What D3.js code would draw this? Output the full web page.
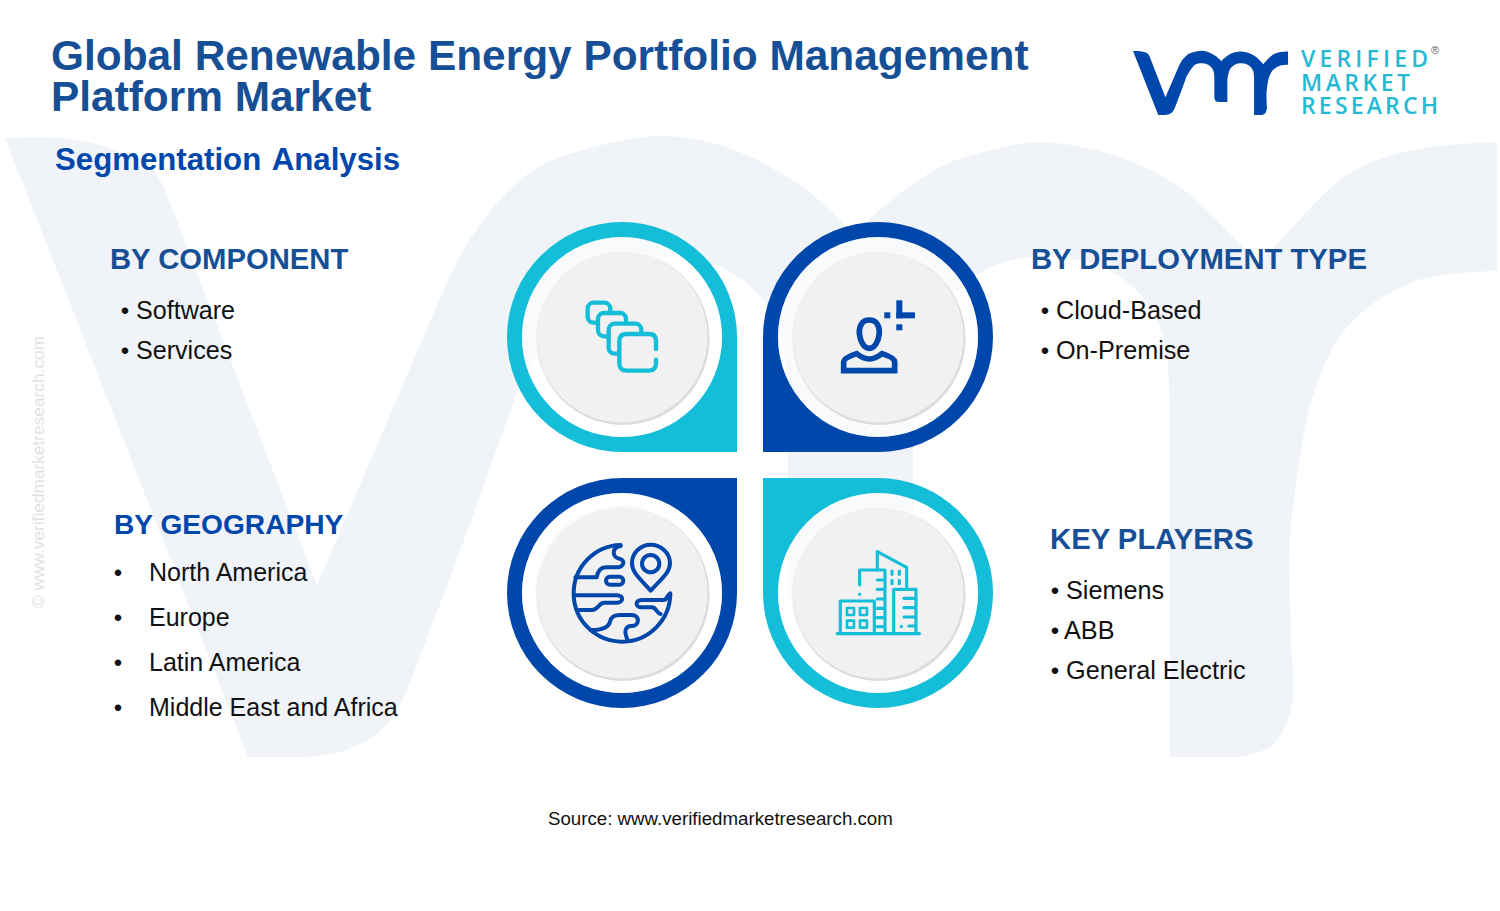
<!DOCTYPE html>
<html>
<head>
<meta charset="utf-8">
<title>Global Renewable Energy Portfolio Management Platform Market</title>
<script src="https://cdn.jsdelivr.net/npm/d3@7/dist/d3.min.js"></script>
<style>
  body { margin: 0; background: #fff; }
  text { font-family: "Liberation Sans", Arial, sans-serif; }
</style>
</head>
<body>
<svg id="chart" width="1500" height="911"></svg>
<script>
var titleLines = ["Global Renewable Energy Portfolio Management", "Platform Market"];
var subtitle = "Segmentation Analysis";
var componentItems = ["Software", "Services"];
var deploymentItems = ["Cloud-Based", "On-Premise"];
var geographyItems = ["North America", "Europe", "Latin America", "Middle East and Africa"];
var playerItems = ["Siemens", "ABB", "General Electric"];
var logoWords = ["VERIFIED", "MARKET", "RESEARCH"];
var sourceText = "Source: www.verifiedmarketresearch.com";
var copyText = "\u00A9 www.verifiedmarketresearch.com";

var BLUE = "#0047ab", TEAL = "#14bed8", HEAD = "#174f96", WASH = "#f0f4f9";

var svg = d3.select("#chart");
svg.append("rect").attr("width", 1500).attr("height", 911).attr("fill", "#fff");

// the "vmr" mark, used big as the backdrop and small as the logo
var outline = [
  [[5,138],[60,138],[110,148],[150,166],[165,190]],
  [[165,190],[317,585]],
  [[317,585],[447,282]],
  [[447,282],[476,230],[529,173],[583,150],[661,136],[726,147],[797,183],[843,223],[856,238]],
  [[856,238],[869,220],[940,167],[1000,148],[1040,142],[1113,155],[1180,187],[1237,241],[1258,264]],
  [[1258,264],[1280,241],[1347,175],[1413,150],[1497,142]],
  [[1497,142],[1497,271]],
  [[1497,271],[1413,282],[1347,327],[1313,396],[1297,478],[1290,540],[1291,640],[1292,704],[1273,745],[1240,757]],
  [[1240,757],[1170,757]],
  [[1170,757],[1170,417]],
  [[1170,417],[1163,335],[1140,294],[1097,265],[1030,257],[980,273],[935,320],[913,417]],
  [[913,417],[913,630]],
  [[913,630],[830,630],[800,620],[788,595]],
  [[788,595],[788,417]],
  [[788,417],[781,335],[758,294],[715,265],[648,257],[598,273],[520,384]],
  [[520,384],[433,622],[387,724],[340,752],[300,757]],
  [[300,757],[248,757]],
  [[248,757],[5,138]]
];
var lineGen = d3.line().curve(d3.curveCatmullRom.alpha(0.5));
var vmrPath = outline.map(function(s) { return lineGen(s); }).join("").replace(/(?!^)M/g, "L") + "Z";

svg.append("path").attr("d", vmrPath).attr("fill", WASH);
svg.append("path").attr("d", vmrPath).attr("fill", BLUE)
   .attr("transform", "translate(1132.5,36.8) scale(0.1039,0.1034)");

// logo words
var logoY = d3.scalePoint().domain(logoWords).range([67, 114]);
var logoW = { VERIFIED: 127, MARKET: 109, RESEARCH: 137 };
svg.selectAll(".logo-word").data(logoWords).enter().append("text")
   .attr("class", "logo-word")
   .attr("x", 1301).attr("y", function(d) { return logoY(d); })
   .attr("textLength", function(d) { return logoW[d]; })
   .attr("lengthAdjust", "spacing")
   .style("font-family", "'Open Sans'").style("font-size", "23px").style("font-weight", 600)
   .attr("fill", "#25b9d4").text(function(d) { return d; });
svg.append("text").attr("x", 1431).attr("y", 54).style("font-size", "11px").attr("fill", "#666").text("\u00AE");

// titles
svg.selectAll(".title").data(titleLines).enter().append("text")
   .attr("class", "title").attr("x", 51).attr("y", function(d, i) { return 70 + i * 41; })
   .style("font-size", "42.4px").style("font-weight", 700).attr("fill", HEAD)
   .text(function(d) { return d; });
svg.append("text").attr("x", 55).attr("y", 170)
   .style("font-size", "31.2px").style("font-weight", 700).style("word-spacing", "3px").attr("fill", BLUE)
   .text(subtitle);

function drawList(heading, headColor, headSize, hx, hy, items, itemSize, dotSize, bx, tx, y0, step) {
  svg.append("text").attr("x", hx).attr("y", hy)
     .style("font-size", headSize + "px").style("font-weight", 700).attr("fill", headColor).text(heading);
  var g = svg.append("g");
  var row = d3.scaleLinear().domain([0, 1]).range([y0, y0 + step]);
  items.forEach(function(d, i) {
    g.append("text").attr("x", bx).attr("y", row(i)).attr("text-anchor", "middle")
     .style("font-size", dotSize + "px").attr("fill", "#111").text("\u2022");
    g.append("text").attr("x", d === "ABB" ? tx - 2 : tx).attr("y", row(i))
     .style("font-size", itemSize + "px").attr("fill", "#111").text(d);
  });
}
drawList("BY COMPONENT", HEAD, 29.25, 110, 269, componentItems, 25.1, 24, 125, 136, 319, 40);
drawList("BY DEPLOYMENT TYPE", HEAD, 29.25, 1031, 269, deploymentItems, 25.2, 24, 1045, 1056, 319, 40);
drawList("BY GEOGRAPHY", BLUE, 28.15, 114, 533.5, geographyItems, 25, 24, 118, 149, 581, 45);
drawList("KEY PLAYERS", HEAD, 29.3, 1050, 549, playerItems, 25.25, 24, 1055, 1066, 599, 40);

// four teardrops
var cx = d3.scalePoint().domain([0, 1]).range([622, 878]);
var cy = d3.scalePoint().domain([0, 1]).range([337, 593]);
var drops = [
  { col: 0, row: 0, color: TEAL },
  { col: 1, row: 0, color: BLUE },
  { col: 0, row: 1, color: BLUE },
  { col: 1, row: 1, color: TEAL }
];
var R = 115, RING = 100;
drops.forEach(function(d) {
  var x = cx(d.col), y = cy(d.row);
  var g = svg.append("g");
  var sx = d.col === 0 ? 1 : -1, sy = d.row === 0 ? 1 : -1;
  var sweep = sx * sy > 0 ? 1 : 0;
  // square corner plus the long way round, with a hole so the backdrop shows through the ring
  var shape = "M" + (x + sx * R) + "," + (y + sy * R) +
    " L" + x + "," + (y + sy * R) +
    " A" + R + "," + R + " 0 1 " + sweep + " " + (x + sx * R) + "," + y + " Z" +
    " M" + (x - RING) + "," + y +
    " A" + RING + "," + RING + " 0 1 0 " + (x + RING) + "," + y +
    " A" + RING + "," + RING + " 0 1 0 " + (x - RING) + "," + y + " Z";
  g.append("path").attr("d", shape).attr("fill", d.color).attr("fill-rule", "evenodd");
  g.append("circle").attr("cx", x).attr("cy", y).attr("r", RING).attr("fill", "#fff").attr("opacity", 0.5);
  g.append("circle").attr("cx", x - 1).attr("cy", y - 1.5).attr("r", 86.5).attr("fill", "#fbfbfc");
  g.append("circle").attr("cx", x + 1).attr("cy", y + 1.5).attr("r", 86.5).attr("fill", "#dcdcdc");
  g.append("circle").attr("cx", x).attr("cy", y).attr("r", 85.5).attr("fill", "#f1f1f2");
});

// icons, traced at 3x and scaled down
function icon(ox, oy, color, sw) {
  return svg.append("g").attr("transform", "translate(" + ox + "," + oy + ") scale(0.3333)")
    .attr("fill", "none").attr("stroke", color).attr("stroke-width", sw)
    .attr("stroke-linecap", "round").attr("stroke-linejoin", "round");
}

// stacked squares
var ic1 = icon(500, 215, TEAL, 13);
[[263,263,68,60],[294,294,84,70],[326,326,98,90]].forEach(function(r) {
  ic1.append("rect").attr("x", r[0]).attr("y", r[1]).attr("width", r[2]).attr("height", r[3]).attr("rx", 18).attr("fill", "#f1f1f2");
});
// front square drawn twice: a plain patch to hide what is behind it, then the open outline
ic1.append("rect").attr("x", 358).attr("y", 357).attr("width", 110).attr("height", 110).attr("rx", 20).attr("fill", "#f1f1f2").attr("stroke", "none");
ic1.append("path")
   .attr("d", "M468,402 V378 Q468,357 447,357 H380 Q358,357 358,378 V445 Q358,467 380,467 H447 Q468,467 468,445 V434");

// person with sparkle
var ic2 = icon(755, 215, BLUE, 17);
ic2.append("path").attr("d", "M343,315 C320,315 312,335 313,355 C315,380 328,400 343,400 C358,400 371,380 373,355 C374,335 366,315 343,315 Z");
ic2.append("path").attr("stroke-linecap", "butt").attr("stroke-linejoin", "miter")
   .attr("d", "M266,467 V440 Q268,428 305,416 Q325,432 343,432 Q361,432 381,416 Q418,428 419,440 V467 Z");
var ic2b = icon(755, 215, BLUE, 0).attr("fill", BLUE);
ic2b.append("rect").attr("x", 388).attr("y", 292).attr("width", 18).attr("height", 18);
ic2b.append("rect").attr("x", 424).attr("y", 328).attr("width", 18).attr("height", 18);
ic2b.append("rect").attr("x", 424).attr("y", 256).attr("width", 18).attr("height", 54);
ic2b.append("rect").attr("x", 424).attr("y", 292).attr("width", 56).attr("height", 18);

// globe with pin
var ic3 = icon(500, 470, BLUE, 12);
ic3.append("path").attr("d", "M362,225 A145,145 0 1 0 511,370");
ic3.append("path").attr("d", "M362,228 C335,232 335,262 358,266 C378,270 372,292 350,292 L318,292 C300,292 293,305 290,322 L226,322");
ic3.append("rect").attr("x", 318).attr("y", 320).attr("width", 52).attr("height", 24).attr("rx", 12);
ic3.append("path").attr("d", "M228,376 L350,376 C372,376 372,398 350,398 L312,398 C296,398 296,420 276,420 L238,420");
ic3.append("path").attr("d", "M511,372 C500,372 505,390 490,390 L425,390 C405,390 405,412 425,412 L455,412 C470,412 470,430 482,432");
ic3.append("path").attr("d", "M272,480 C300,480 325,475 330,455 C334,438 345,435 360,435 L395,435 C420,435 420,468 395,468 C375,468 372,485 382,508");
ic3.append("path").attr("d", "M452,362 C425,330 396,310 396,280 C396,248 422,224 452,224 C482,224 510,248 510,280 C510,310 480,330 452,362 Z");
ic3.append("circle").attr("cx", 452).attr("cy", 281).attr("r", 26);

// city blocks
var ic4 = icon(755, 470, TEAL, 9.5);
ic4.append("path").attr("stroke-width", 10).attr("d", "M247,491 H493");
ic4.append("path").attr("d", "M256,491 V393 H358 V491");
[[276,414],[315,414],[276,452],[315,452]].forEach(function(p) {
  ic4.append("rect").attr("x", p[0]).attr("y", p[1]).attr("width", 21).attr("height", 21).attr("stroke-width", 8);
});
ic4.append("path").attr("d", "M314,345 V300 H390 V491");
ic4.append("path").attr("d", "M314,372 V373");
ic4.append("path").attr("d", "M367,300 V245 L455,292 V356");
ic4.append("path").attr("d", "M416,491 V358 H483 V491");
[330,358,387,415,443,470].forEach(function(y) {
  ic4.append("path").attr("d", "M367," + y + " H388");
});
[385,413,441].forEach(function(y) {
  ic4.append("path").attr("d", "M447," + y + " H481");
});
ic4.append("path").attr("d", "M462,468 H481 M439,469 V470");
[[411,303],[433,303],[411,331],[433,331]].forEach(function(p) {
  ic4.append("path").attr("d", "M" + p[0] + "," + p[1] + " V" + (p[1] + 10));
});

// side credit and source
svg.append("text").attr("transform", "translate(44,608) rotate(-90)")
   .style("font-size", "17.3px").attr("fill", "#e2e2e2").text(copyText);
svg.append("text").attr("x", 548).attr("y", 825)
   .style("font-size", "18.7px").attr("fill", "#111").text(sourceText);
</script>
</body>
</html>
